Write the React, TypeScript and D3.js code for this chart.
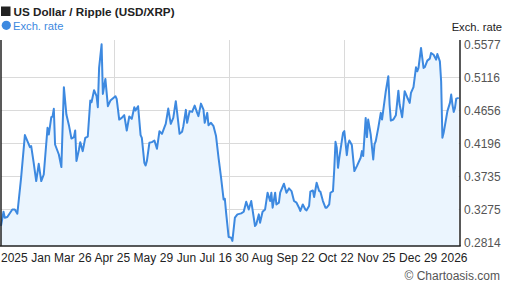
import React from "react";
import * as d3 from "d3";

const seriesName = "Exch. rate";
const title = "US Dollar / Ripple (USD/XRP)";
const startDate = new Date(2025, 0, 1);
const endDate = new Date(2026, 0, 1);

// day offsets from 2025-01-01
const days = [
  0, 2, 3, 5, 9, 11, 13, 16, 19, 23, 24, 26, 28, 30, 32, 34, 37, 38, 40, 41, 42, 43, 46, 48, 50, 52, 54, 56, 58, 59,
  60, 62, 63, 65, 67, 69, 71, 72, 74, 76, 77, 78, 80, 81, 83, 85, 87, 91,
  92, 94, 96, 98, 100, 102, 104, 106, 107, 109, 111, 112, 114, 115, 116, 118, 120, 122, 124, 126, 128, 130, 131, 133,
  135, 137, 139, 140, 142, 144, 145, 147, 148, 150, 152, 154, 156, 157, 159, 161, 162, 164, 165, 167, 169, 171, 173,
  175, 177, 178, 179, 181,
  183, 184, 186, 188, 191, 193, 195, 197, 199, 202, 203, 205, 206, 208, 210, 212, 214, 215, 216, 218, 219, 221, 222,
  225, 227, 229, 231, 233, 235, 237, 238, 240, 242, 243, 245, 246, 248, 249, 251, 253, 254, 256, 258, 259, 261, 262,
  264, 265, 266, 267, 268, 269, 271, 272,
  273, 275, 276, 277, 279, 281, 283, 286, 287, 288, 290, 291, 292, 294, 296, 297, 298, 300, 302, 303, 306, 308, 309,
  310, 312, 314, 316, 317, 319, 320, 321, 323, 325, 326, 328, 330, 331, 332, 334, 336, 337, 339, 341, 342, 344, 346,
  347, 349, 350, 351, 352, 355, 357, 358, 359, 360, 361, 362, 364,
];

const rates = [
  0.3045, 0.3244, 0.316, 0.317, 0.3275, 0.3275, 0.3216, 0.3717, 0.4311, 0.4144, 0.4158, 0.3925, 0.3671, 0.3911, 0.3671,
  0.3762, 0.4412, 0.4319, 0.4561, 0.457, 0.4677, 0.418, 0.4041, 0.3865, 0.4979, 0.4597, 0.445, 0.4263, 0.4283, 0.4375,
  0.3949, 0.411, 0.4213, 0.4088, 0.4273, 0.4291, 0.4792, 0.477, 0.4937, 0.4853, 0.47, 0.5247, 0.5577, 0.4885, 0.5094,
  0.4714, 0.4792, 0.4853,
  0.4816, 0.4528, 0.4551, 0.4589, 0.4375, 0.457, 0.4538, 0.47, 0.4653, 0.4714, 0.4311, 0.4273, 0.3925, 0.3888, 0.3949,
  0.4204, 0.4213, 0.4236, 0.412, 0.4366, 0.4329, 0.4422, 0.4468, 0.4681, 0.4468, 0.4551, 0.4784, 0.4635, 0.4329,
  0.4357, 0.4436, 0.4663, 0.4482, 0.4645, 0.4635, 0.4723, 0.4621, 0.4575, 0.475, 0.4667, 0.4482, 0.4621, 0.445,
  0.4482, 0.4436, 0.4297, 0.3995, 0.3717, 0.3415, 0.3424, 0.323, 0.2891,
  0.2882, 0.2836, 0.316, 0.3206, 0.322, 0.3243, 0.3383, 0.3275, 0.3392, 0.3044, 0.3067, 0.3206, 0.309, 0.3243, 0.3275,
  0.3508, 0.3392, 0.3508, 0.3299, 0.3508, 0.3345, 0.3369, 0.3508, 0.3633, 0.3508, 0.3568, 0.3531, 0.3392, 0.3369,
  0.3299, 0.3253, 0.3345, 0.3275, 0.3262, 0.3323, 0.3522, 0.354, 0.3448, 0.3647, 0.3531, 0.3522, 0.3392, 0.3299,
  0.3299, 0.3345, 0.3508, 0.3531, 0.3832, 0.4217, 0.4134, 0.3856, 0.3995, 0.4227, 0.4343,
  0.4366, 0.4032, 0.418, 0.4236, 0.4172, 0.381, 0.3879, 0.3995, 0.4088, 0.4019, 0.4551, 0.4283, 0.4528, 0.4319,
  0.3971, 0.418, 0.4227, 0.4412, 0.4621, 0.4528, 0.4923, 0.5132, 0.4737, 0.4514, 0.4528, 0.4589, 0.4931, 0.4737,
  0.4561, 0.4737, 0.4923, 0.4839, 0.476, 0.4899, 0.4979, 0.5257, 0.5201, 0.5247, 0.5526, 0.5247, 0.5257, 0.5349,
  0.5377, 0.5456, 0.5432, 0.5363, 0.5442, 0.534, 0.5062, 0.4273, 0.4343, 0.4645, 0.476, 0.4876, 0.4737, 0.4635,
  0.4691, 0.482, 0.483,
];

const yTicks = [0.2814, 0.3275, 0.3735, 0.4196, 0.4656, 0.5116, 0.5577];
const gridDates = [new Date(2025, 3, 1), new Date(2025, 6, 1), new Date(2025, 9, 1)];
const xTickLabels = ["2025", "Jan", "Mar 26", "Apr 25", "May 29", "Jun", "Jul 16", "30 Aug", "Sep 22", "Oct 22", "Nov 25", "Dec 29", "2026"];

const LINE = "#3d89e0";
const FILL = "#ebf5fe";
const FONT = "'Liberation Sans', Arial, sans-serif";

export default function App() {
  const W = 507;
  const H = 288;
  const left = 1;
  const right = 460;
  const top = 40;
  const bottom = 246;

  const x = d3.scaleTime().domain([startDate, endDate]).range([left, right]);
  const y = d3.scaleLinear().domain([0.2814, 0.5577]).range([242.5, 44.3]);

  const data = days.map((d, i) => ({ date: d3.timeDay.offset(startDate, d), v: rates[i] }));

  const area = d3
    .area<{ date: Date; v: number }>()
    .x((d) => x(d.date))
    .y0(bottom)
    .y1((d) => y(d.v));
  const line = d3
    .line<{ date: Date; v: number }>()
    .x((d) => x(d.date))
    .y((d) => y(d.v));

  return (
    <svg width={W} height={H} style={{ position: "absolute", left: 0, top: 0, fontFamily: FONT }}>
      <rect x={0} y={0} width={W} height={H} fill="#fff" />
      {/* title */}
      <rect x={1} y={6.5} width={9.5} height={9.5} fill="#222" />
      <text x={13.5} y={16} fontSize={11.7} fontWeight="bold" fill="#222">
        {title}
      </text>
      <circle cx={6.3} cy={25.3} r={4.6} fill={LINE} />
      <text x={13} y={29.5} fontSize={11.2} fill={LINE}>
        {seriesName}
      </text>
      <text x={502} y={31} fontSize={11.2} fill="#222" textAnchor="end">
        {seriesName}
      </text>

      {/* grid */}
      {yTicks.slice(1, -1).map((t) => (
        <line key={t} x1={left} x2={right} y1={Math.round(y(t)) + 0.5} y2={Math.round(y(t)) + 0.5} stroke="#dadada" strokeWidth={1} />
      ))}
      {gridDates.map((d, i) => (
        <line key={i} x1={Math.round(x(d)) + 0.5} x2={Math.round(x(d)) + 0.5} y1={top} y2={bottom} stroke="#dadada" strokeWidth={1} />
      ))}

      <path d={area(data) || ""} fill={FILL} />
      <path d={line(data) || ""} fill="none" stroke={LINE} strokeWidth={2} strokeLinejoin="round" />

      {/* frame */}
      <line x1={1} x2={1} y1={top} y2={bottom} stroke="#222" strokeWidth={1.5} />
      <line x1={0} x2={right + 0.75} y1={bottom} y2={bottom} stroke="#222" strokeWidth={1.5} />
      <line x1={right} x2={right} y1={top} y2={bottom} stroke="#222" strokeWidth={1.5} />

      {/* y labels */}
      {yTicks.map((t) => (
        <text key={t} x={464} y={y(t) + 4.3} fontSize={12} fill="#555">
          {t.toFixed(4)}
        </text>
      ))}

      {/* x labels */}
      <text x={1} y={262} fontSize={12} fill="#222" style={{ wordSpacing: "0.2px" }}>
        {xTickLabels.join(" ")}
      </text>

      <text x={500} y={280} fontSize={12} fill="#555" textAnchor="end">
        © Chartoasis.com
      </text>
    </svg>
  );
}
